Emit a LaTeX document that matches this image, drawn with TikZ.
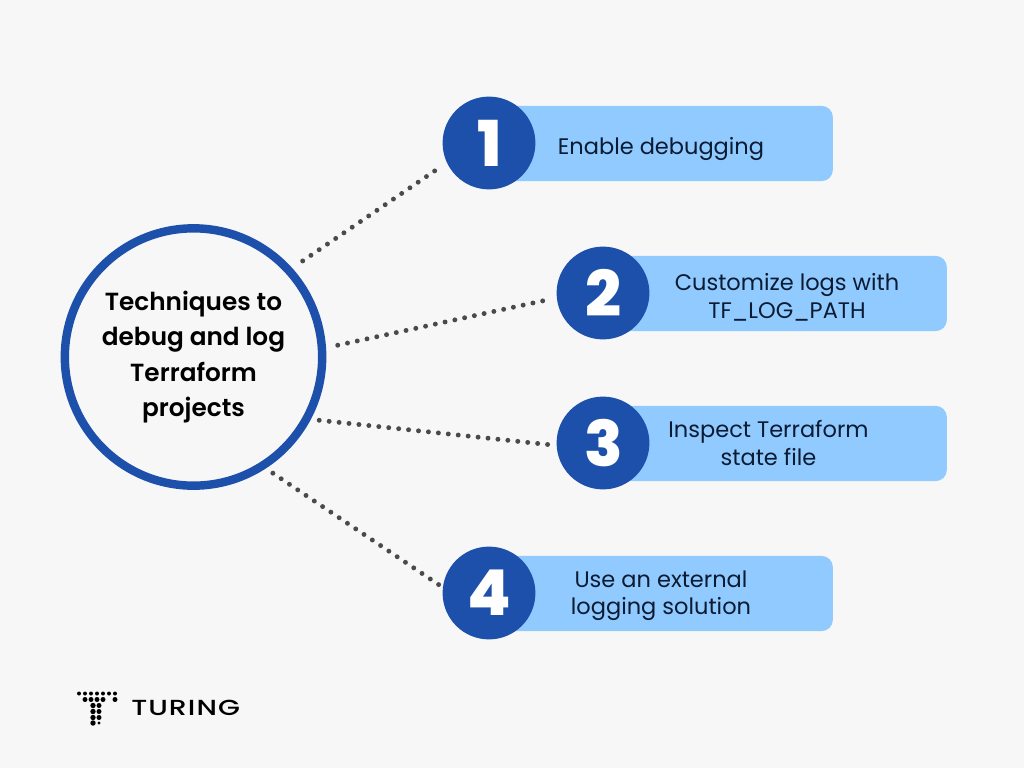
\documentclass[tikz,border=0pt]{standalone}
\usepackage{xcolor}
\usepackage{fontspec}
\usepackage{tikz}
\setmainfont{Poppins}
\newfontfamily\numfont{Poppins ExtraBold}
\newfontfamily\headfont{Poppins SemiBold}
\newfontfamily\logofont[FakeStretch=1.3,LetterSpace=5]{Poppins Medium}
\definecolor{bgcol}{HTML}{F7F7F8}
\definecolor{barcol}{HTML}{90CAFE}
\definecolor{bluecol}{HTML}{1D50AB}
\definecolor{dotcol}{HTML}{4A4A4A}
\definecolor{inkcol}{HTML}{0B1B33}
\tikzset{
	mainnode/.style={circle, draw=bluecol, line width=6pt, fill=bgcol, minimum size=183pt, inner sep=0pt, align=center, font=\headfont\fontsize{17.6}{25}\selectfont, text=black},
	numnode/.style={circle, fill=bluecol, minimum size=66pt, inner sep=0pt, text=white, font=\numfont\fontsize{45}{45}\selectfont, execute at begin node=\kern1.2pt},
	barnode/.style={rectangle, rounded corners=8pt, fill=barcol, minimum height=53.5pt, inner sep=0pt},
	textnode/.style={align=center, text=inkcol, font=\fontsize{16}{19.6}\selectfont},
	dotline/.style={draw=dotcol, line width=3.5pt, line cap=round, dash pattern=on 0pt off 7.1pt},
	logodot/.style={fill=black}
}
\begin{document}
\begin{tikzpicture}[x=0.025cm, y=-0.025cm]
\fill[bgcol] (0,0) rectangle (1024,768);
\useasboundingbox (0,0) rectangle (1024,768);

% bars
\node[barnode, minimum width=233pt] (b1) at (669,143.5) {};
\node[barnode, minimum width=233pt] (b2) at (783,293.5) {};
\node[barnode, minimum width=233pt] (b3) at (783,443.5) {};
\node[barnode, minimum width=233pt] (b4) at (669,593.5) {};

% numbers
\node[numnode] (n1) at (489,143) {1};
\node[numnode] (n2) at (603,293) {2};
\node[numnode] (n3) at (603,443) {3};
\node[numnode] (n4) at (489,593) {4};

% center
\node[mainnode] (main) at (193.5,357) {Techniques to\\debug and log\\Terraform\\projects};

% labels
\node[textnode] (t1) at (661,148.5) {Enable debugging};
\node[textnode] (t2) at (787,297.5) {Customize logs with\\TF\_LOG\_PATH};
\node[textnode] (t3) at (768.5,443) {Inspect Terraform\\state file};
\node[textnode] (t4) at (661,595.5) {Use an external\\logging solution};

% connectors
\draw[dotline, shorten <=9pt, shorten >=8pt] (main.42) -- (n1.205);
\draw[dotline, shorten <=8.5pt, shorten >=8pt] (main.4) -- (n2.186);
\draw[dotline, shorten <=6pt, shorten >=5pt] (main.-28) -- (n3.183);
\draw[dotline, shorten <=6pt, shorten >=-3pt] (main.-57) -- (n4.173);

% logo
\foreach \x in {0,...,6} \fill[logodot] (79+6*\x,693.5) circle (2);
\foreach \x in {1,2,3,4,6} \fill[logodot] (79+6*\x,699.5) circle (2.5);
\foreach \y in {705.5,711.5,717.5,723} \fill[logodot] (93,\y) circle (2.7);
\foreach \y in {705.5,711.5,717.5} \fill[logodot] (99,\y) circle (2.5);
\fill[logodot] (99,723) circle (1.6);
\node[anchor=west, inner sep=0pt, text=black, font=\logofont\fontsize{15.5}{15.5}\selectfont] (logo) at (131,707.5) {TURING};
\end{tikzpicture}
\end{document}
